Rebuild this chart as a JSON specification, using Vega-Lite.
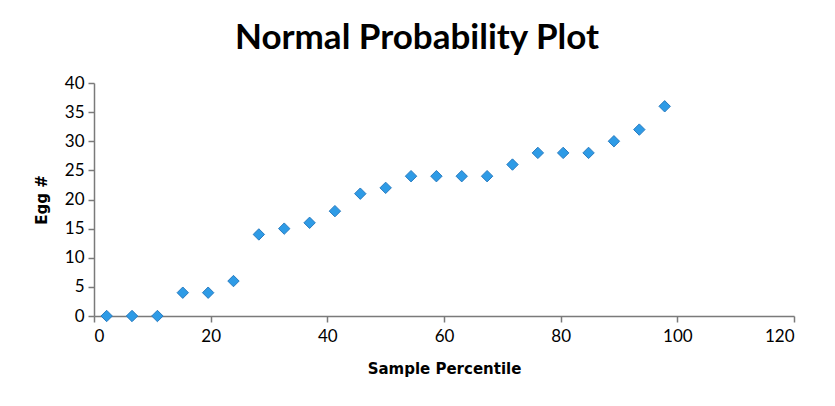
{
  "$schema": "https://vega.github.io/schema/vega-lite/v6.json",
  "width": 700,
  "height": 233,
  "autosize": {"type": "none"},
  "padding": {"left": 94, "top": 83, "right": 41, "bottom": 90},
  "background": "white",
  "title": {
    "text": "Normal Probability Plot",
    "font": "Lato",
    "fontSize": 35,
    "fontWeight": "bold",
    "color": "#000000",
    "anchor": "middle",
    "dx": -27,
    "offset": 18
  },
  "config": {
    "view": {"stroke": null},
    "axis": {
      "grid": false,
      "domainColor": "#7a7a7a",
      "domainWidth": 1.5,
      "tickColor": "#7a7a7a",
      "tickWidth": 1.5,
      "tickSize": 6,
      "labelFont": "Lato",
      "labelFontSize": 17,
      "labelColor": "#000000",
      "titleFont": "DejaVu Sans",
      "titleFontSize": 15,
      "titleFontWeight": "bold",
      "titleColor": "#000000"
    }
  },
  "data": {
    "values": [
      {"percentile": 2.17, "eggs": 0},
      {"percentile": 6.52, "eggs": 0},
      {"percentile": 10.87, "eggs": 0},
      {"percentile": 15.22, "eggs": 4},
      {"percentile": 19.57, "eggs": 4},
      {"percentile": 23.91, "eggs": 6},
      {"percentile": 28.26, "eggs": 14},
      {"percentile": 32.61, "eggs": 15},
      {"percentile": 36.96, "eggs": 16},
      {"percentile": 41.30, "eggs": 18},
      {"percentile": 45.65, "eggs": 21},
      {"percentile": 50.00, "eggs": 22},
      {"percentile": 54.35, "eggs": 24},
      {"percentile": 58.70, "eggs": 24},
      {"percentile": 63.04, "eggs": 24},
      {"percentile": 67.39, "eggs": 24},
      {"percentile": 71.74, "eggs": 26},
      {"percentile": 76.09, "eggs": 28},
      {"percentile": 80.43, "eggs": 28},
      {"percentile": 84.78, "eggs": 28},
      {"percentile": 89.13, "eggs": 30},
      {"percentile": 93.48, "eggs": 32},
      {"percentile": 97.83, "eggs": 36}
    ]
  },
  "mark": {
    "type": "point",
    "shape": "diamond",
    "filled": true,
    "size": 130,
    "fill": "#2e9be6",
    "stroke": "#2a7cc0",
    "strokeWidth": 1,
    "opacity": 1
  },
  "encoding": {
    "x": {
      "field": "percentile",
      "type": "quantitative",
      "scale": {"domain": [0, 120], "nice": false},
      "axis": {"values": [0, 20, 40, 60, 80, 100, 120], "title": "Sample Percentile", "titlePadding": 17, "labelPadding": 6}
    },
    "y": {
      "field": "eggs",
      "type": "quantitative",
      "scale": {"domain": [0, 40], "nice": false},
      "axis": {"values": [0, 5, 10, 15, 20, 25, 30, 35, 40], "title": "Egg #", "titlePadding": 15, "labelPadding": 4}
    }
  }
}
